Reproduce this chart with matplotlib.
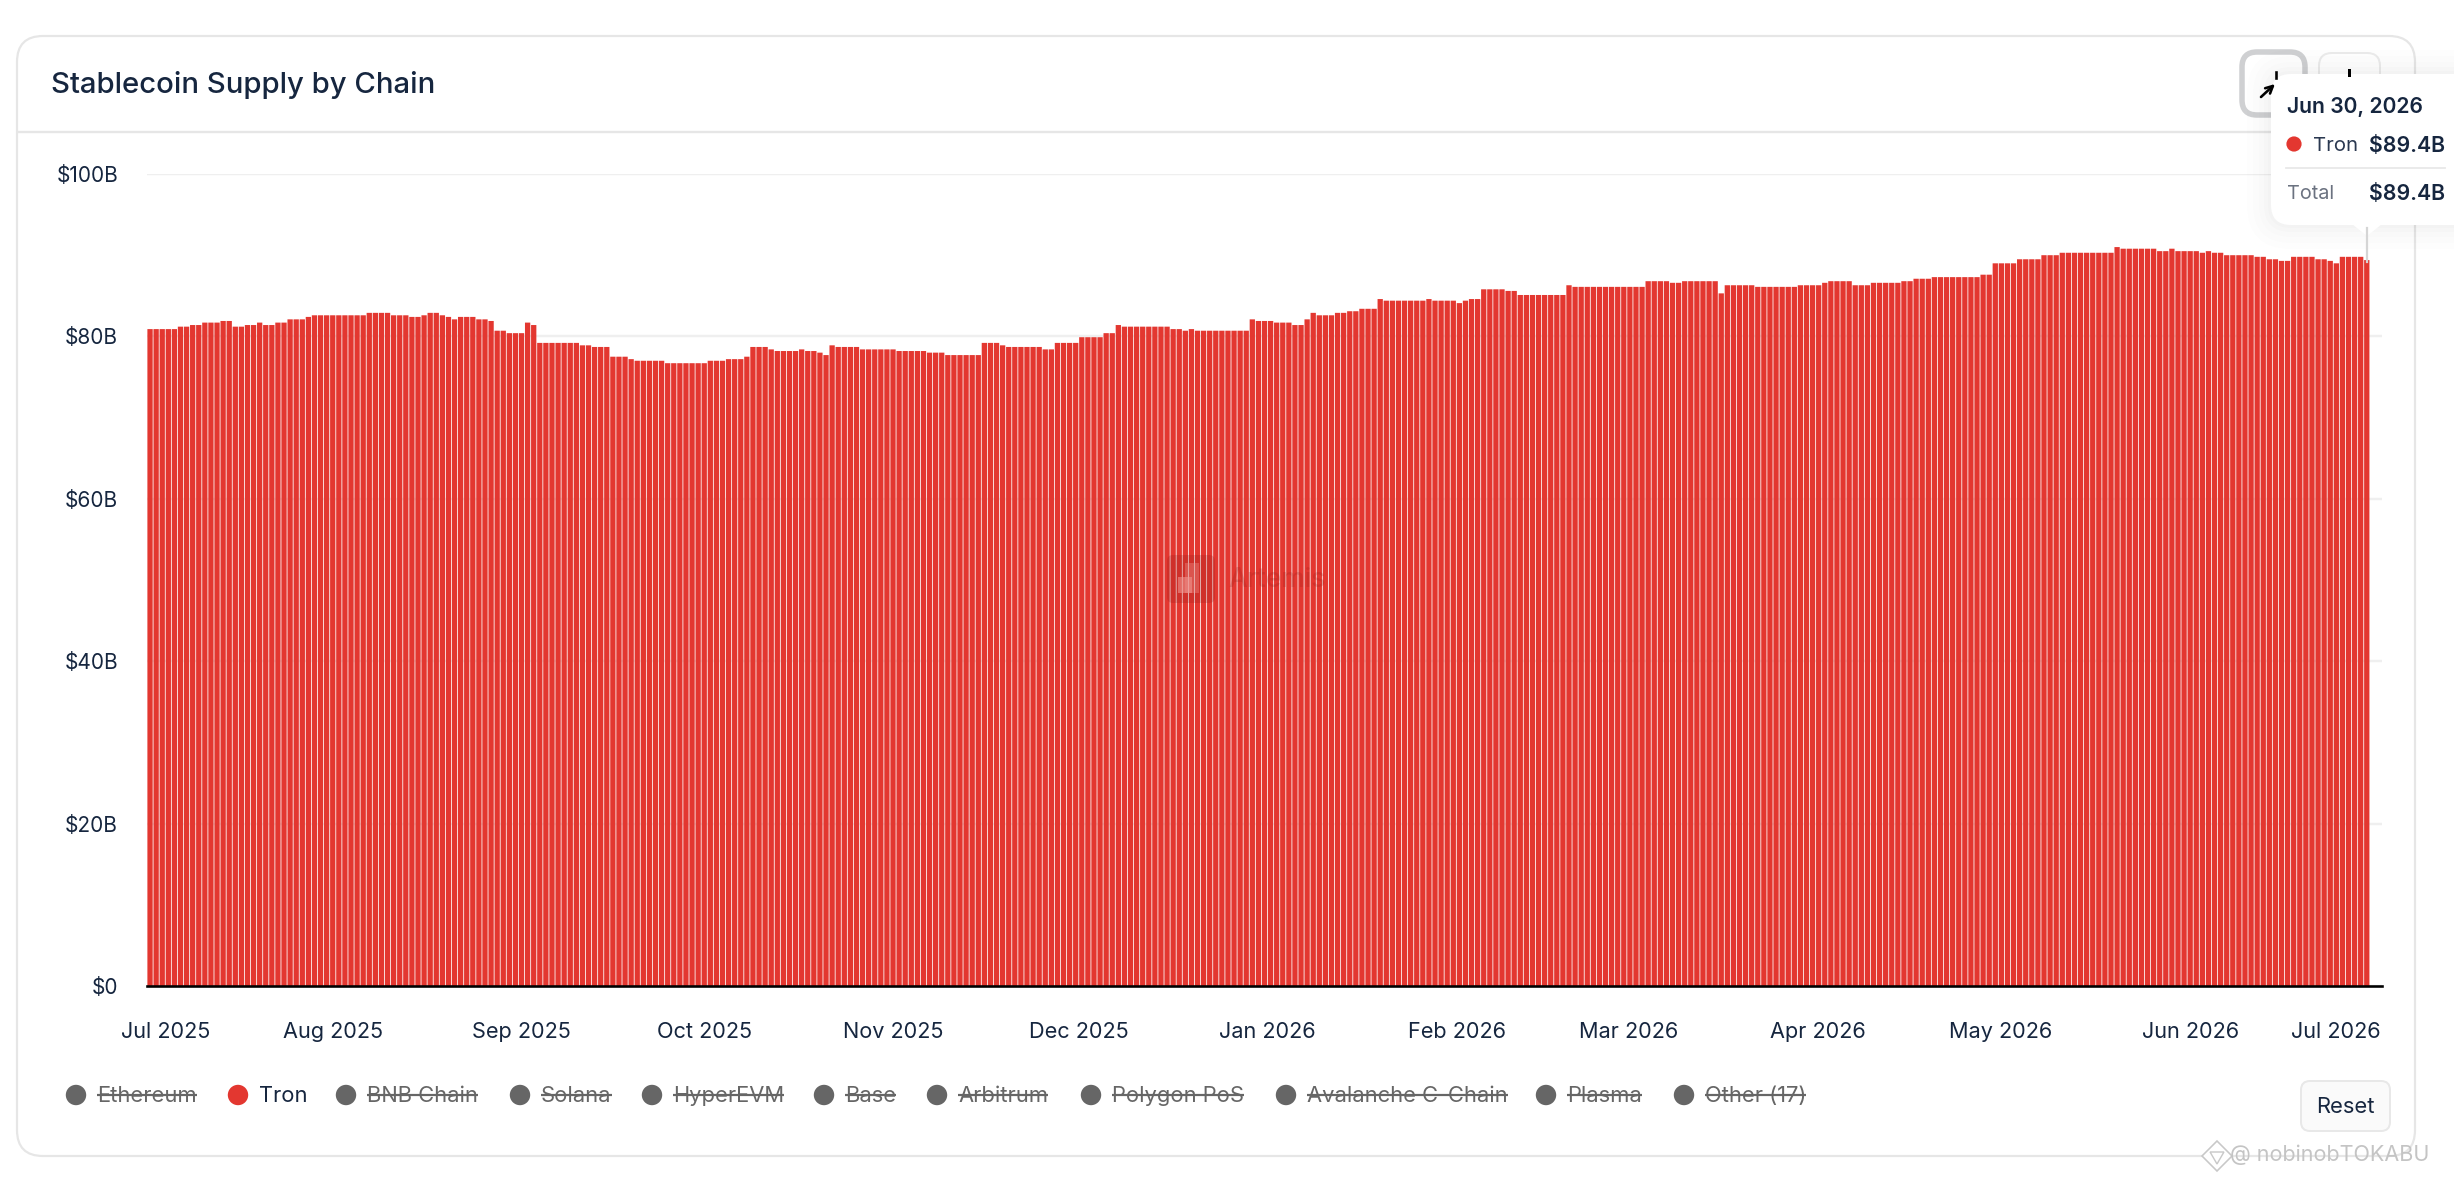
import matplotlib
matplotlib.use("Agg")
import matplotlib.pyplot as plt
from matplotlib.patches import FancyBboxPatch, Polygon, Circle, Rectangle, RegularPolygon

W, H = 2454, 1180

# ---------- data (USD billions, Tron, daily Jul 1 2025 .. Jun 30 2026) ----------
tron_jul = [80.9,80.9,80.9,80.9,80.9,81.2,81.2,81.4,81.4,81.7,81.7,81.7,81.9,81.9,81.2,81.2,
            81.4,81.4,81.7,81.4,81.4,81.7,81.7,82.1,82.1,82.1,82.4,82.6,82.6,82.6,82.6]
tron_aug = [82.6,82.6,82.6,82.6,82.6,82.9,82.9,82.9,82.9,82.6,82.6,82.6,82.4,82.4,82.6,82.9,
            82.9,82.6,82.4,82.1,82.4,82.4,82.4,82.1,82.1,81.9,80.7,80.7,80.4,80.4,80.4]
tron_sep = [81.7,81.4,79.2,79.2,79.2,79.2,79.2,79.2,79.2,78.9,78.9,78.7,78.7,78.7,77.5,77.5,
            77.5,77.2,77.0,77.0,77.0,77.0,77.0,76.7,76.7,76.7,76.7,76.7,76.7,76.7]
tron_oct = [77.0,77.0,77.0,77.2,77.2,77.2,77.5,78.7,78.7,78.7,78.4,78.2,78.2,78.2,78.2,78.4,
            78.2,78.2,78.0,77.7,78.9,78.7,78.7,78.7,78.7,78.4,78.4,78.4,78.4,78.4,78.4]
tron_nov = [78.2,78.2,78.2,78.2,78.2,78.0,78.0,78.0,77.7,77.7,77.7,77.7,77.7,77.7,79.2,79.2,
            79.2,78.9,78.7,78.7,78.7,78.7,78.7,78.7,78.4,78.4,79.2,79.2,79.2,79.2]
tron_dec = [79.9,79.9,79.9,79.9,80.4,80.4,81.4,81.2,81.2,81.2,81.2,81.2,81.2,81.2,81.2,80.9,
            80.9,80.7,80.9,80.7,80.7,80.7,80.7,80.7,80.7,80.7,80.7,80.7,82.1,81.9,81.9]
tron_jan = [81.9,81.7,81.7,81.7,81.4,81.4,82.1,82.9,82.6,82.6,82.6,82.9,82.9,83.1,83.1,83.4,
            83.4,83.4,84.6,84.4,84.4,84.4,84.4,84.4,84.4,84.4,84.6,84.4,84.4,84.4,84.4]
tron_feb = [84.1,84.4,84.6,84.6,85.8,85.8,85.8,85.8,85.6,85.6,85.1,85.1,85.1,85.1,85.1,85.1,
            85.1,85.1,86.3,86.1,86.1,86.1,86.1,86.1,86.1,86.1,86.1,86.1]
tron_mar = [86.1,86.1,86.1,86.8,86.8,86.8,86.8,86.6,86.6,86.8,86.8,86.8,86.8,86.8,86.8,85.3,
            86.3,86.3,86.3,86.3,86.3,86.1,86.1,86.1,86.1,86.1,86.1,86.1,86.3,86.3,86.3]
tron_apr = [86.3,86.6,86.8,86.8,86.8,86.8,86.3,86.3,86.3,86.6,86.6,86.6,86.6,86.6,86.8,86.8,
            87.1,87.1,87.1,87.3,87.3,87.3,87.3,87.3,87.3,87.3,87.3,87.6,87.6,89.0]
tron_may = [89.0,89.0,89.0,89.5,89.5,89.5,89.5,90.0,90.0,90.0,90.3,90.3,90.3,90.3,90.3,90.3,
            90.3,90.3,90.3,91.0,90.8,90.8,90.8,90.8,90.8,90.8,90.5,90.5,90.8,90.5,90.5]
tron_jun = [90.5,90.5,90.3,90.5,90.3,90.3,90.0,90.0,90.0,90.0,90.0,89.8,89.8,89.5,89.5,89.3,
            89.3,89.8,89.8,89.8,89.8,89.5,89.5,89.3,89.0,89.8,89.8,89.8,89.8,89.4]
tron_values = (tron_jul + tron_aug + tron_sep + tron_oct + tron_nov + tron_dec +
               tron_jan + tron_feb + tron_mar + tron_apr + tron_may + tron_jun)

month_labels = ["Jul 2025","Aug 2025","Sep 2025","Oct 2025","Nov 2025","Dec 2025","Jan 2026",
                "Feb 2026","Mar 2026","Apr 2026","May 2026","Jun 2026","Jul 2026"]
month_ticks = [2.5, 30, 61, 91, 122, 152.5, 183.5, 214.6, 242.8, 273.8, 303.9, 335, 358.9]
y_ticks = [0, 20, 40, 60, 80, 100]
y_labels = ["$0", "$20B", "$40B", "$60B", "$80B", "$100B"]
legend_names = ["Ethereum","Tron","BNB Chain","Solana","HyperEVM","Base","Arbitrum",
                "Polygon PoS","Avalanche C-Chain","Plasma","Other (17)"]
legend_active = "Tron"

# ---------- style ----------
plt.rcParams['font.family'] = ['Inter', 'DejaVu Sans']
RED = "#E33730"
NAVY = "#16263F"
GREY = "#666666"
BORDER = "#E6E6E6"

fig = plt.figure(figsize=(W/100, H/100), dpi=100, facecolor="white")
px = 0.72  # points per pixel at dpi 100

def layer(z):
    a = fig.add_axes([0, 0, 1, 1], zorder=z)
    a.set_xlim(0, W); a.set_ylim(H, 0); a.axis("off"); a.patch.set_alpha(0)
    return a

def rbox(a, x0, y0, x1, y1, r, **kw):
    p = FancyBboxPatch((x0+r, y0+r), x1-x0-2*r, y1-y0-2*r,
                       boxstyle=f"round,pad={r},rounding_size={r}", **kw)
    a.add_patch(p)
    return p

# ---------- card layer ----------
bg = layer(0)
rbox(bg, 17, 36, 2415, 1156, 26, fc="white", ec=BORDER, lw=2.2*px)
bg.plot([18, 2414], [132, 132], color=BORDER, lw=2.4*px, solid_capstyle="butt")
bg.text(51, 85, "Stablecoin Supply by Chain", fontsize=21.1, color=NAVY, weight=500,
        ha="left", va="center")

# ---------- chart ----------
ax = fig.add_axes([147/W, 1-986/H, (2382-147)/W, (986-174)/H], zorder=1)
ax.patch.set_alpha(0)
bars = ax.bar(range(len(tron_values)), tron_values, width=0.87, color=RED, lw=0, zorder=3)
for b in bars:
    b.set_snap(False)
ax.set_xlim(-0.5, 366.5)
ax.set_ylim(0, 100)
ax.set_yticks(y_ticks, y_labels)
ax.set_xticks(month_ticks, month_labels)
ax.grid(axis="y", color="#EFEFEF", lw=2.4*px, zorder=0)
ax.set_axisbelow(True)
for s in ("top", "left", "right"):
    ax.spines[s].set_visible(False)
ax.spines["bottom"].set_color("black")
ax.spines["bottom"].set_linewidth(2.6*px)
ax.spines["bottom"].set_zorder(5)
ax.tick_params(axis="y", length=0, pad=29*px, labelsize=15.0, labelcolor=NAVY)
ax.tick_params(axis="x", length=0, pad=36*px, labelsize=15.6, labelcolor=NAVY)

# ---------- overlay ----------
ov = layer(2)

# chart watermark
rbox(ov, 1167, 555, 1215, 603, 6, fc="#8C1A16", ec="none", alpha=0.22)
ov.add_patch(Rectangle((1178, 577), 14, 16, fc="#F39A94", ec="none", alpha=0.55))
ov.add_patch(Rectangle((1185, 563), 14, 30, fc="#F39A94", ec="none", alpha=0.35))
ov.text(1228, 580, "Artemis", fontsize=19, color="#8C1A16", alpha=0.20, ha="left",
        va="center", weight=500)

# header buttons
rbox(ov, 2242, 52, 2305, 115, 15, fc="white", ec="#CFD0D2", lw=5.5*px)
rbox(ov, 2319, 53, 2380, 112, 13, fc="white", ec="#EBEBEB", lw=2*px)
ov.annotate("", xy=(2275, 84), xytext=(2261, 97),
            arrowprops=dict(arrowstyle="->", color="black", lw=2.6*px, mutation_scale=13,
                            shrinkA=0, shrinkB=0))
ov.plot([2276, 2276], [72, 78], color="black", lw=2.6*px)
ov.plot([2349, 2349], [70, 75], color="black", lw=3*px)

# crosshair + tooltip
ov.plot([2367, 2367], [228, 262], color="#D5D5D5", lw=2.2*px)
for grow, al in ((24, 0.006), (18, 0.007), (12, 0.008), (7, 0.010), (3, 0.010)):
    rbox(ov, 2271-grow, 74-grow, 2500, 225+grow, 20+grow, fc="black", ec="none", alpha=al)
rbox(ov, 2271, 74, 2500, 225, 20, fc="white", ec="none")
ov.add_patch(Polygon([[2352, 224], [2382, 224], [2367, 236]], closed=True, fc="white", ec="none"))
ov.text(2287, 107, "Jun 30, 2026", fontsize=15.2, color=NAVY, weight=600, ha="left", va="center")
ov.add_patch(Circle((2294, 144), 7.6, fc=RED, ec="none"))
ov.text(2313, 146, "Tron", fontsize=14.6, color="#2A3850", ha="left", va="center")
ov.text(2445, 146, "$89.4B", fontsize=15.3, color=NAVY, weight=600, ha="right", va="center")
ov.plot([2286, 2445], [168, 168], color="#E8E8E8", lw=1.8*px)
ov.text(2287, 194, "Total", fontsize=14.2, color="#6B7280", ha="left", va="center")
ov.text(2445, 194, "$89.4B", fontsize=15.3, color=NAVY, weight=600, ha="right", va="center")

# legend
legend_left = [97, 259, 367, 541, 673, 845, 958, 1112, 1307, 1567, 1705]
legend_y = 1095
fig.canvas.draw()
rend = fig.canvas.get_renderer()
for name, xl in zip(legend_names, legend_left):
    on = name == legend_active
    ov.add_patch(Circle((xl-21, legend_y), 10.2, fc=RED if on else GREY, ec="none"))
    t = ov.text(xl, legend_y+1, name, fontsize=15.8, color=NAVY if on else GREY,
                ha="left", va="center")
    if not on:
        bb = t.get_window_extent(rend)
        ov.plot([bb.x0, bb.x1], [legend_y, legend_y], color=GREY, lw=2.2*px,
                solid_capstyle="butt")

# reset button
rbox(ov, 2301, 1081, 2390, 1131, 9, fc="#FAFAFA", ec="#E8E8E8", lw=2*px)
ov.text(2345, 1107, "Reset", fontsize=15.8, color=NAVY, ha="center", va="center")

# corner watermark
ov.add_patch(RegularPolygon((2217, 1156), 4, radius=15, fc="white", ec="#C8C8C8", lw=1.6*px))
ov.add_patch(RegularPolygon((2217, 1156), 3, radius=8, fc="white", ec="#C8C8C8", lw=1.4*px))
ov.text(2230, 1155, "@ nobinobTOKABU", fontsize=15.5, color="#C4C4C4", ha="left", va="center")

assert len(tron_values) == 365
fig.savefig("out.png", dpi=100, facecolor="white")
